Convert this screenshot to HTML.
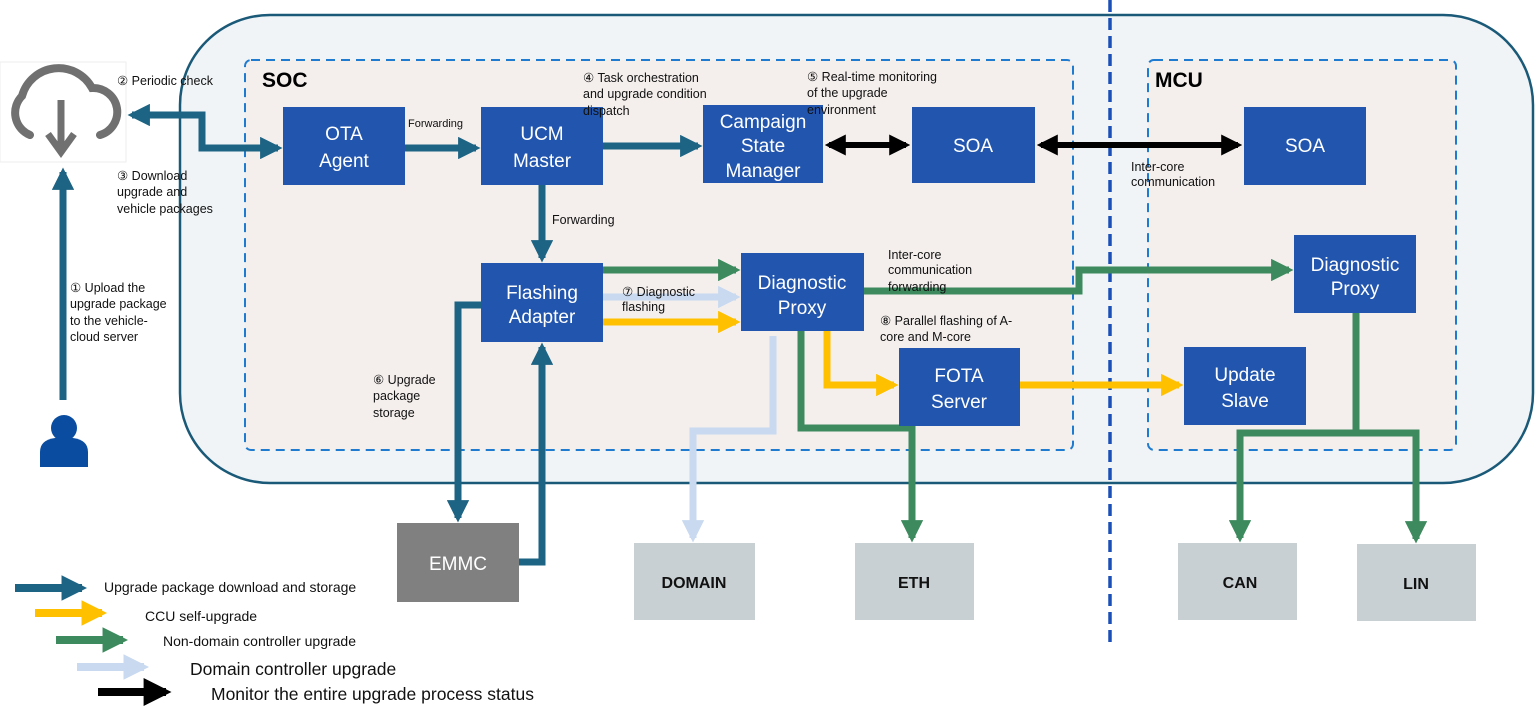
<!DOCTYPE html>
<html><head><meta charset="utf-8"><style>
body{margin:0;background:#fff}
svg{display:block;font-family:"Liberation Sans",sans-serif}
.bx{fill:#2255ae}
.bt{fill:#fff;font-size:19px;text-anchor:middle}
.lb{fill:#111;font-size:12.5px}
.gt{fill:#111;font-size:16px;font-weight:bold;text-anchor:middle}
</style></head><body>
<svg width="1536" height="706" viewBox="0 0 1536 706">
<defs>
<marker id="mt" viewBox="0 0 10 10" refX="8" refY="5" markerWidth="3.2" markerHeight="3.2" orient="auto-start-reverse"><path d="M0,0L10,5L0,10z" fill="#1d6383"/></marker>
<marker id="mg" viewBox="0 0 10 10" refX="8" refY="5" markerWidth="3.2" markerHeight="3.2" orient="auto"><path d="M0,0L10,5L0,10z" fill="#3d8a5e"/></marker>
<marker id="my" viewBox="0 0 10 10" refX="8" refY="5" markerWidth="3.2" markerHeight="3.2" orient="auto"><path d="M0,0L10,5L0,10z" fill="#ffc000"/></marker>
<marker id="ml" viewBox="0 0 10 10" refX="8" refY="5" markerWidth="3.2" markerHeight="3.2" orient="auto"><path d="M0,0L10,5L0,10z" fill="#c9d9ef"/></marker>
<marker id="mk" viewBox="0 0 10 10" refX="8" refY="5" markerWidth="3.5" markerHeight="3.5" orient="auto-start-reverse"><path d="M0,0L10,5L0,10z" fill="#000"/></marker>
</defs>
<rect x="180" y="15" width="1353" height="468" rx="90" fill="#f0f4f7" stroke="#1a5a78" stroke-width="2.5"/>
<rect x="245" y="60" width="828" height="390" rx="6" fill="#f4efed" stroke="#1e7bd0" stroke-width="2" stroke-dasharray="9,6"/>
<rect x="1148" y="60" width="308" height="390" rx="6" fill="#f4efed" stroke="#1e7bd0" stroke-width="2" stroke-dasharray="9,6"/>
<line x1="1110" y1="0" x2="1110" y2="645" stroke="#1b4fb8" stroke-width="3.5" stroke-dasharray="12,6"/>
<text x="262" y="87" font-size="21" font-weight="bold" fill="#000">SOC</text>
<text x="1155" y="87" font-size="21" font-weight="bold" fill="#000">MCU</text>

<rect x="0" y="62" width="126" height="100" fill="#fff" stroke="#eee"/>
<path d="M30,135 A24,24 0 0 1 22,96 A38,38 0 0 1 92,88 A24,24 0 0 1 100,135" fill="none" stroke="#707070" stroke-width="8" stroke-linecap="round"/>
<line x1="61" y1="100" x2="61" y2="150" stroke="#707070" stroke-width="7"/>
<path d="M48,134L61,152L74,134" fill="none" stroke="#707070" stroke-width="7"/>
<circle cx="64" cy="428" r="13" fill="#0a4da0"/>
<path d="M40,467 L40,452 Q40,440 55,438 L73,438 Q88,440 88,452 L88,467Z" fill="#0a4da0"/>

<g fill="none" stroke="#1d6383" stroke-width="7">
<path d="M63,400 L63,172" marker-end="url(#mt)"/>
<path d="M132,115 L202,115 L202,148 L278,148" marker-start="url(#mt)" marker-end="url(#mt)"/>
<path d="M405,148 L476,148" marker-end="url(#mt)"/>
<path d="M603,146 L698,146" marker-end="url(#mt)"/>
<path d="M542,185 L542,258" marker-end="url(#mt)"/>
<path d="M481,305 L458,305 L458,518" marker-end="url(#mt)"/>
<path d="M519,562 L542,562 L542,347" marker-end="url(#mt)"/>
</g>
<g fill="none" stroke="#000" stroke-width="6">
<path d="M829,145 L906,145" marker-start="url(#mk)" marker-end="url(#mk)"/>
<path d="M1041,145 L1238,145" marker-start="url(#mk)" marker-end="url(#mk)"/>
</g>
<g fill="none" stroke="#3d8a5e" stroke-width="7">
<path d="M603,270 L736,270" marker-end="url(#mg)"/>
<path d="M864,291 L1079,291 L1079,270 L1289,270" marker-end="url(#mg)"/>
<path d="M801,331 L801,428 L912,428 L912,538" marker-end="url(#mg)"/>
<path d="M1356,313 L1356,433 L1240,433 L1240,538" marker-end="url(#mg)"/>
<path d="M1356,433 L1416,433 L1416,539" marker-end="url(#mg)"/>
</g>
<g fill="none" stroke="#c9d9ef" stroke-width="7">
<path d="M603,297 L736,297" marker-end="url(#ml)"/>
<path d="M773,336 L773,431 L693,431 L693,538" marker-end="url(#ml)"/>
</g>
<g fill="none" stroke="#ffc000" stroke-width="7">
<path d="M603,322 L736,322" marker-end="url(#my)"/>
<path d="M827,331 L827,385 L894,385" marker-end="url(#my)"/>
<path d="M1020,385 L1179,385" marker-end="url(#my)"/>
</g>

<rect class="bx" x="283" y="107" width="122" height="78"/><text class="bt" x="344" y="140">OTA</text><text class="bt" x="344" y="167">Agent</text>
<rect class="bx" x="481" y="107" width="122" height="78"/><text class="bt" x="542" y="140">UCM</text><text class="bt" x="542" y="167">Master</text>
<rect class="bx" x="703" y="105" width="120" height="78"/><text class="bt" x="763" y="128">Campaign</text><text class="bt" x="763" y="152">State</text><text class="bt" x="763" y="177">Manager</text>
<rect class="bx" x="912" y="107" width="123" height="76"/><text class="bt" x="973" y="152">SOA</text>
<rect class="bx" x="1244" y="107" width="122" height="78"/><text class="bt" x="1305" y="152">SOA</text>
<rect class="bx" x="481" y="263" width="122" height="79"/><text class="bt" x="542" y="299">Flashing</text><text class="bt" x="542" y="323">Adapter</text>
<rect class="bx" x="741" y="253" width="123" height="78"/><text class="bt" x="802" y="289">Diagnostic</text><text class="bt" x="802" y="314">Proxy</text>
<rect class="bx" x="1294" y="235" width="122" height="78"/><text class="bt" x="1355" y="271">Diagnostic</text><text class="bt" x="1355" y="295">Proxy</text>
<rect class="bx" x="899" y="348" width="121" height="78"/><text class="bt" x="959" y="382">FOTA</text><text class="bt" x="959" y="408">Server</text>
<rect class="bx" x="1184" y="347" width="122" height="78"/><text class="bt" x="1245" y="381">Update</text><text class="bt" x="1245" y="407">Slave</text>
<rect x="397" y="523" width="122" height="79" fill="#808080"/><text class="bt" x="458" y="570">EMMC</text>
<rect x="634" y="543" width="121" height="77" fill="#c9d0d3"/><text class="gt" x="694" y="588">DOMAIN</text>
<rect x="855" y="543" width="119" height="77" fill="#c9d0d3"/><text class="gt" x="914" y="588">ETH</text>
<rect x="1178" y="543" width="119" height="77" fill="#c9d0d3"/><text class="gt" x="1240" y="588">CAN</text>
<rect x="1357" y="544" width="119" height="77" fill="#c9d0d3"/><text class="gt" x="1416" y="589">LIN</text>

<g class="lb">
<text x="117" y="85">② Periodic check</text>
<text x="117" y="180">③ Download</text><text x="117" y="196">upgrade and</text><text x="117" y="213">vehicle packages</text>
<text x="70" y="292">① Upload the</text><text x="70" y="308">upgrade package</text><text x="70" y="325">to the vehicle-</text><text x="70" y="341">cloud server</text>
<text x="408" y="127" font-size="11">Forwarding</text>
<text x="552" y="224">Forwarding</text>
<text x="583" y="82">④ Task orchestration</text><text x="583" y="98">and upgrade condition</text><text x="583" y="115">dispatch</text>
<text x="807" y="81">⑤ Real-time monitoring</text><text x="807" y="97">of the upgrade</text><text x="807" y="114">environment</text>
<text x="1131" y="171">Inter-core</text><text x="1131" y="186">communication</text>
<text x="888" y="259">Inter-core</text><text x="888" y="274">communication</text><text x="888" y="291">forwarding</text>
<text x="622" y="296">⑦ Diagnostic</text><text x="622" y="311">flashing</text>
<text x="880" y="325">⑧ Parallel flashing of A-</text><text x="880" y="341">core and M-core</text>
<text x="373" y="384">⑥ Upgrade</text><text x="373" y="400">package</text><text x="373" y="417">storage</text>
</g>

<g stroke-width="8" fill="none">
<path d="M15,588 L82,588" stroke="#1d6383" marker-end="url(#mt)"/>
<path d="M35,613 L102,613" stroke="#ffc000" marker-end="url(#my)"/>
<path d="M56,640 L123,640" stroke="#3d8a5e" marker-end="url(#mg)"/>
<path d="M77,667 L144,667" stroke="#c9d9ef" marker-end="url(#ml)"/>
<path d="M98,692 L166,692" stroke="#000" marker-end="url(#mk)"/>
</g>
<g fill="#111">
<text x="104" y="592" font-size="14">Upgrade package download and storage</text>
<text x="145" y="621" font-size="14">CCU self-upgrade</text>
<text x="163" y="646" font-size="14">Non-domain controller upgrade</text>
<text x="190" y="675" font-size="17.5">Domain controller upgrade</text>
<text x="211" y="700" font-size="17.5">Monitor the entire upgrade process status</text>
</g>
</svg>
</body></html>
